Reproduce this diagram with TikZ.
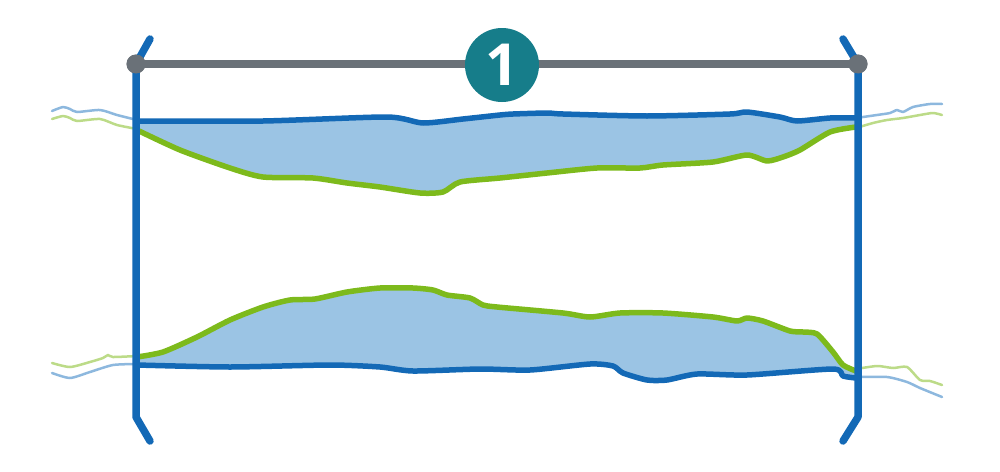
\documentclass[tikz,border=0pt]{standalone}
\usepackage{fontspec}
\setmainfont{Open Sans}
\usetikzlibrary{positioning}

\definecolor{bankblue}{HTML}{1369B6}
\definecolor{waterfill}{HTML}{9BC4E4}
\definecolor{bedgreen}{HTML}{7DBA1C}
\definecolor{faintblue}{HTML}{8DB8DE}
\definecolor{faintgreen}{HTML}{BCDB88}
\definecolor{spangray}{HTML}{6A7178}
\definecolor{badgeteal}{HTML}{167D8A}

\begin{document}
\begin{tikzpicture}[x=1pt, y=-1pt, line join=round, line cap=round]
	\tikzstyle{postStyle}=[draw=bankblue, line width=7.5pt]
	\tikzstyle{surfaceStyle}=[draw=bankblue, line width=5.5pt]
	\tikzstyle{bedStyle}=[draw=bedgreen, line width=5.5pt]
	\tikzstyle{faintBlueStyle}=[draw=faintblue, line width=2.5pt]
	\tikzstyle{faintGreenStyle}=[draw=faintgreen, line width=2.5pt]
	\tikzstyle{endStyle}=[shape = circle, minimum size = 19pt, inner sep = 0pt, fill=spangray]
	\tikzstyle{badgeStyle}=[shape = circle, minimum size = 74pt, inner sep = 0pt, fill=badgeteal, text=white, font=\fontsize{58}{60}\selectfont\bfseries]
	\useasboundingbox (0,0) rectangle (1000,471);
	% upper reach: water between surface and bed
	\fill[waterfill] plot[smooth, tension=0.4] coordinates {(137,121) (263,121) (387,117) (423,123) (463,119) (500,115) (513,114) (547,113) (563,114) (647,116) (730,114) (747,112) (780,117) (797,121) (830,118) (856,118)}
		-- plot[smooth, tension=0.4] coordinates {(856,127) (830,132) (800,150) (783,157) (767,161) (747,155) (713,162) (663,165) (640,168) (597,168) (547,173) (500,178) (460,182) (443,192) (420,193) (380,187) (347,183) (313,178) (263,177) (230,168) (180,150) (137,130)} -- cycle;
	% lower reach
	\fill[waterfill] plot[smooth, tension=0.4] coordinates {(137,357) (163,352) (197,337) (230,320) (263,307) (290,300) (315,299) (347,292) (380,288) (413,288) (433,290) (447,295) (470,298) (483,305) (497,307) (563,313) (590,317) (620,313) (663,313) (713,317) (737,321) (747,318) (763,321) (790,331) (803,332) (817,334) (833,352) (843,365) (856,371)}
		-- plot[smooth, tension=0.4] coordinates {(856,378) (843,376) (833,369) (747,375) (697,374) (667,380) (647,380) (623,373) (613,366) (590,364) (530,370) (480,369) (413,371) (380,367) (330,365) (230,367) (137,365)} -- cycle;
	% banks outside the reach
	\draw[faintBlueStyle] plot[smooth, tension=0.4] coordinates {(52,111) (63,107) (70,109) (77,112) (100,110) (117,115) (137,120)};
	\draw[faintGreenStyle] plot[smooth, tension=0.4] coordinates {(52,119) (63,116) (70,118) (77,121) (100,119) (117,125) (137,129)};
	\draw[faintBlueStyle] plot[smooth, tension=0.4] coordinates {(856,118) (877,115) (890,113) (897,110) (903,112) (913,107) (930,104) (942,104)};
	\draw[faintGreenStyle] plot[smooth, tension=0.4] coordinates {(856,128) (873,123) (887,120) (903,118) (920,115) (933,113) (942,115)};
	\draw[faintGreenStyle] plot[smooth, tension=0.4] coordinates {(52,363) (70,367) (90,362) (103,358) (108,355) (113,357) (137,356)};
	\draw[faintBlueStyle] plot[smooth, tension=0.4] coordinates {(52,373) (70,378) (90,372) (113,365) (137,364)};
	\draw[faintGreenStyle] plot[smooth, tension=0.4] coordinates {(856,369) (877,366) (893,368) (907,367) (920,380) (930,381) (942,385)};
	\draw[faintBlueStyle] plot[smooth, tension=0.4] coordinates {(856,377) (887,377) (907,382) (920,388) (942,397)};
	% surface and bed lines
	\draw[surfaceStyle] plot[smooth, tension=0.4] coordinates {(137,121) (263,121) (387,117) (423,123) (463,119) (500,115) (513,114) (547,113) (563,114) (647,116) (730,114) (747,112) (780,117) (797,121) (830,118) (856,118)};
	\draw[bedStyle] plot[smooth, tension=0.4] coordinates {(137,130) (180,150) (230,168) (263,177) (313,178) (347,183) (380,187) (420,193) (443,192) (460,182) (500,178) (547,173) (597,168) (640,168) (663,165) (713,162) (747,155) (767,161) (783,157) (800,150) (830,132) (856,127)};
	\draw[bedStyle] plot[smooth, tension=0.4] coordinates {(137,357) (163,352) (197,337) (230,320) (263,307) (290,300) (315,299) (347,292) (380,288) (413,288) (433,290) (447,295) (470,298) (483,305) (497,307) (563,313) (590,317) (620,313) (663,313) (713,317) (737,321) (747,318) (763,321) (790,331) (803,332) (817,334) (833,352) (843,365) (856,371)};
	\draw[surfaceStyle] plot[smooth, tension=0.4] coordinates {(137,365) (230,367) (330,365) (380,367) (413,371) (480,369) (530,370) (590,364) (613,366) (623,373) (647,380) (667,380) (697,374) (747,375) (833,369) (843,376) (856,378)};
	% section posts
	\coordinate (tl) at (150,39);
	\coordinate (bl) at (150,441);
	\coordinate (tr) at (843,39);
	\coordinate (br) at (843,441);
	\node[endStyle] (e0) at (136,64) {};
	\node[endStyle] (e1) at (858,64) {};
	\draw[postStyle] (tl) -- (e0.center) -- (136,417) -- (bl);
	\draw[postStyle] (tr) -- (e1.center) -- (858,417) -- (br);
	\draw[spangray, line width=8pt] (e0.center) -- (e1.center);
	\node[endStyle] at (e0) {};
	\node[endStyle] at (e1) {};
	\node[badgeStyle] (b1) at (502,65) {1};
\end{tikzpicture}
\end{document}
